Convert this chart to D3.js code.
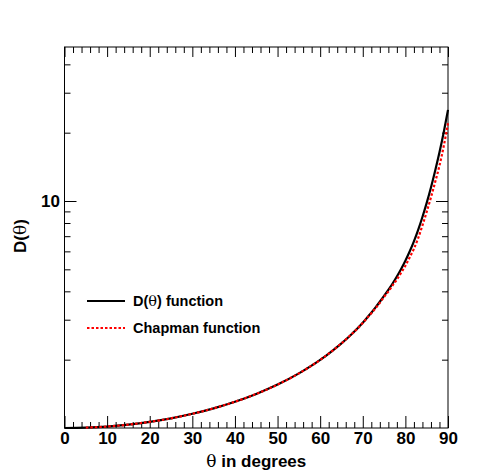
<!DOCTYPE html>
<html>
<head>
<meta charset="utf-8">
<script src="https://cdn.jsdelivr.net/npm/d3@7"></script>
<style>
  body { margin: 0; background: #fff; }
  text { font-family: "Liberation Sans", Arial, Helvetica, sans-serif; font-weight: bold; }
</style>
</head>
<body>
<svg id="chart" width="498" height="476"></svg>
<script>
// values
var thetaD = [0, 5, 10, 15, 20, 25, 30, 35, 40, 45, 50, 55, 60, 63, 65, 67, 70, 71, 72, 73, 74, 75,
  76, 77, 78, 79, 80, 81, 82, 83, 84, 85, 86, 87, 88, 89, 90];
var valuesD = [1.000, 1.004, 1.015, 1.035, 1.064, 1.103, 1.155, 1.221, 1.305, 1.413, 1.553, 1.740, 1.995,
  2.20, 2.36, 2.55, 2.91, 3.06, 3.22, 3.40, 3.60, 3.82,
  4.06, 4.33, 4.65, 5.02, 5.46, 5.99, 6.64, 7.46, 8.50, 9.81, 11.47, 13.63, 16.39, 20.09, 25.20];

var thetaChap = [5, 10, 15, 20, 25, 30, 35, 40, 45, 50, 55, 60, 63, 65, 67, 70, 71, 72, 73, 74, 75,
  76, 77, 78, 79, 80, 81, 82, 83, 84, 85, 86, 87, 88, 89, 90];
var valuesChap = [1.004, 1.015, 1.035, 1.064, 1.103, 1.155, 1.221, 1.305, 1.413, 1.553, 1.740, 1.995,
  2.20, 2.36, 2.55, 2.90, 3.05, 3.20, 3.37, 3.56, 3.78,
  3.99, 4.25, 4.51, 4.83, 5.19, 5.64, 6.16, 6.86, 7.81, 8.96, 10.38, 12.15, 14.33, 17.46, 22.0];

var xMajorTicks = [0, 10, 20, 30, 40, 50, 60, 70, 80, 90];
var yMajorTicks = [10];
var yMinorTicks = [2, 3, 4, 5, 6, 7, 8, 9, 20, 30, 40];

var legendLabels = ["D(\u03b8) function", "Chapman function"];

var svg = d3.select('#chart');
var frameLeft = 64.5, frameRight = 448, frameTop = 47, frameBottom = 428;

var x = d3.scaleLinear().domain([0, 90]).range([frameLeft, frameRight]);
var y = d3.scaleLog().domain([1, 47.7]).range([frameBottom, frameTop]);

var xMinorTicks = d3.range(0, 91, 2).filter(function (d) { return d % 10 !== 0; });

// axes: ticks point inward on all four sides
function styleAxis(g) {
  g.select('.domain').remove();
  g.selectAll('line').attr('stroke', '#000').attr('stroke-width', 1);
  g.selectAll('text').attr('fill', '#000').attr('font-size', 17)
    .attr('font-family', '"Liberation Sans", Arial, sans-serif').attr('font-weight', 'bold');
}

svg.append('g').attr('transform', 'translate(0,' + frameBottom + ')')
  .call(d3.axisBottom(x).tickValues(xMinorTicks).tickSize(-6).tickFormat(''))
  .call(styleAxis);
svg.append('g').attr('transform', 'translate(0,' + frameBottom + ')')
  .call(d3.axisBottom(x).tickValues(xMajorTicks).tickSize(-12).tickPadding(4).tickFormat(d3.format('d')))
  .call(styleAxis);
svg.append('g').attr('transform', 'translate(0,' + frameTop + ')')
  .call(d3.axisTop(x).tickValues(xMinorTicks).tickSize(-6).tickFormat(''))
  .call(styleAxis);
svg.append('g').attr('transform', 'translate(0,' + frameTop + ')')
  .call(d3.axisTop(x).tickValues(xMajorTicks).tickSize(-10).tickFormat(''))
  .call(styleAxis);

svg.append('g').attr('transform', 'translate(' + frameLeft + ',0)')
  .call(d3.axisLeft(y).tickValues(yMinorTicks).tickSize(-6).tickFormat(''))
  .call(styleAxis);
svg.append('g').attr('transform', 'translate(' + frameLeft + ',0)')
  .call(d3.axisLeft(y).tickValues(yMajorTicks).tickSize(-12).tickPadding(4.5).tickFormat(d3.format('d')))
  .call(styleAxis);
svg.append('g').attr('transform', 'translate(' + frameRight + ',0)')
  .call(d3.axisRight(y).tickValues(yMinorTicks).tickSize(-6).tickFormat(''))
  .call(styleAxis);
svg.append('g').attr('transform', 'translate(' + frameRight + ',0)')
  .call(d3.axisRight(y).tickValues(yMajorTicks).tickSize(-12).tickFormat(''))
  .call(styleAxis);

// frame
svg.append('rect')
  .attr('x', frameLeft).attr('y', frameTop)
  .attr('width', frameRight - frameLeft).attr('height', frameBottom - frameTop)
  .attr('fill', 'none').attr('stroke', '#000').attr('stroke-width', 1);

// curves
var line = d3.line()
  .x(function (d) { return x(d[0]); })
  .y(function (d) { return y(d[1]); })
  .curve(d3.curveMonotoneX);

svg.append('path')
  .datum(d3.zip(thetaD, valuesD))
  .attr('d', line)
  .attr('fill', 'none').attr('stroke', '#000').attr('stroke-width', 2.2);

svg.append('path')
  .datum(d3.zip(thetaChap, valuesChap))
  .attr('d', line)
  .attr('fill', 'none').attr('stroke', '#ff0000').attr('stroke-width', 2.2)
  .attr('stroke-dasharray', '2.5,2');

// titles
var xt = svg.append('text')
  .attr('x', (frameLeft + frameRight) / 2).attr('y', 467)
  .attr('text-anchor', 'middle').attr('font-size', 17);
xt.append('tspan').attr('font-weight', 'normal').attr('font-family', '"DejaVu Serif", serif').text('\u03b8');
xt.append('tspan').text(' in degrees');

var yt = svg.append('text')
  .attr('transform', 'translate(26,236) rotate(-90)')
  .attr('text-anchor', 'middle').attr('font-size', 17);
yt.append('tspan').text('D(');
yt.append('tspan').attr('font-weight', 'normal').attr('font-family', '"DejaVu Serif", serif').text('\u03b8');
yt.append('tspan').text(')');

// legend
var legendY = [301, 328];
var legend = svg.append('g');
legend.selectAll('line').data(legendLabels).enter().append('line')
  .attr('x1', 87).attr('x2', 125)
  .attr('y1', function (d, i) { return legendY[i]; })
  .attr('y2', function (d, i) { return legendY[i]; })
  .attr('stroke', function (d, i) { return i === 0 ? '#000' : '#ff0000'; })
  .attr('stroke-width', 2.2)
  .attr('stroke-dasharray', function (d, i) { return i === 0 ? null : '2.5,2'; });

legend.selectAll('text').data(legendLabels).enter().append('text')
  .attr('x', 133)
  .attr('y', function (d, i) { return legendY[i] + 5; })
  .attr('font-size', 14.5)
  .each(function (d) {
    var t = d3.select(this);
    var parts = d.split('\u03b8');
    if (parts.length === 1) { t.text(d); return; }
    t.append('tspan').text(parts[0]);
    t.append('tspan').attr('font-weight', 'normal').attr('font-family', '"DejaVu Serif", serif').text('\u03b8');
    t.append('tspan').text(parts[1]);
  });
</script>
</body>
</html>
